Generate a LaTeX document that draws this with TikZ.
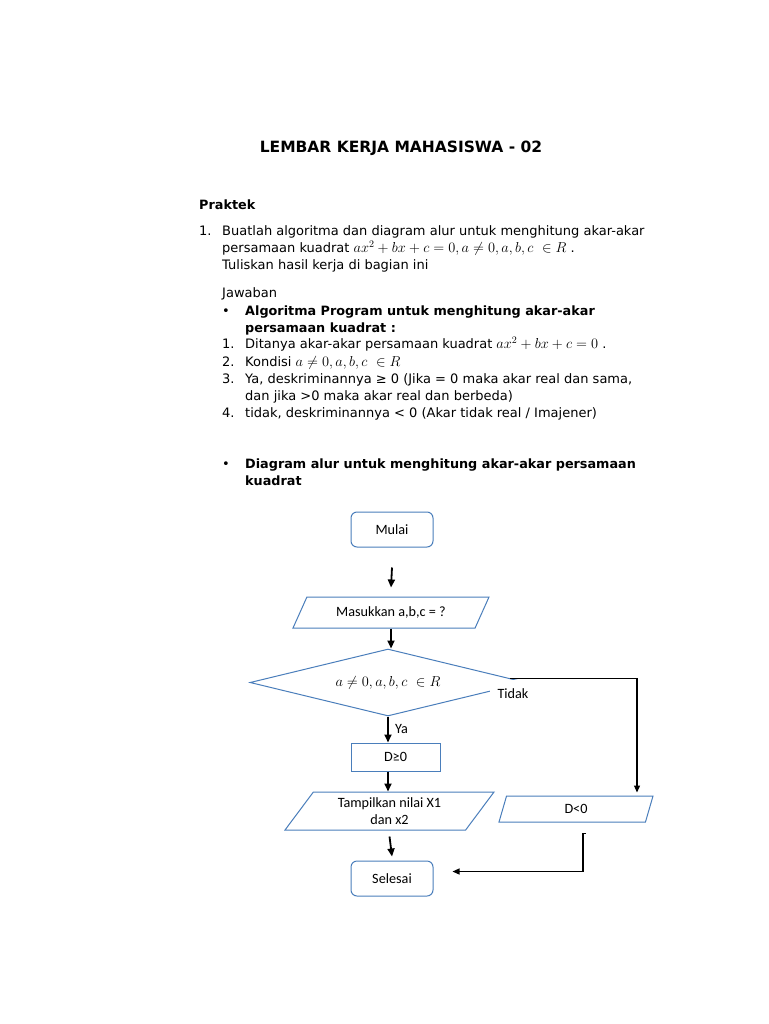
\documentclass[tikz,border=0pt]{standalone}
\usepackage{amsmath}
\usepackage{amssymb}
\usepackage{fontspec}
\setmainfont{DejaVu Sans}
\newfontfamily\chartfont{Carlito}
\usetikzlibrary{shapes.geometric,arrows.meta,calc}
\definecolor{shapeblue}{RGB}{74,126,187}
\newcommand{\mth}[1]{{\fontsize{14.4}{15}\selectfont$#1$}}
\tikzset{
  txt/.style={anchor=base west,inner sep=0pt,font=\fontsize{13}{15}\selectfont},
  hd/.style={anchor=base west,inner sep=0pt,font=\fontsize{12.8}{15}\selectfont\bfseries},
  term/.style={draw=shapeblue,line width=1pt,rounded corners=6pt,minimum width=82pt,minimum height=35pt,font=\chartfont\fontsize{14.2}{16}\selectfont},
  procbox/.style={draw=shapeblue,line width=1pt,minimum width=89pt,minimum height=28pt,font=\chartfont\fontsize{14.2}{16}\selectfont},
  iobox/.style={draw=shapeblue,line width=1pt,trapezium,trapezium stretches body=true,inner sep=0pt,align=center,font=\chartfont\fontsize{14.2}{16.5}\selectfont},
  arr/.style={-{Triangle[length=8pt,width=7pt]},line width=1.8pt},
  conn/.style={line width=1.2pt},
  lbl/.style={inner sep=0pt,font=\chartfont\fontsize{14.2}{16}\selectfont}
}
\begin{document}
\begin{tikzpicture}[x=1pt,y=-1pt]
\fill[white] (0,0) rectangle (768,1024);
\useasboundingbox (0,0) rectangle (768,1024);
% heading
\node[anchor=base,inner sep=0pt,font=\fontsize{15.5}{17}\selectfont\bfseries] (title) at (401,153) {LEMBAR KERJA MAHASISWA - 02};
\node[hd] (prak) at (199,210) {Praktek};
\node[txt] (n1) at (199,236) {1.};
\node[txt] (q1) at (222,236) {Buatlah algoritma dan diagram alur untuk menghitung akar-akar};
\node[txt] (q2) at (222,252.5) {persamaan kuadrat \mth{ax^2+bx+c=0, a\neq 0, a, b, c\ \in R} .};
\node[txt] (q3) at (222,269) {Tuliskan hasil kerja di bagian ini};
\node[txt] (jaw) at (222,297) {Jawaban};
% algoritma
\node[txt] (b1) at (222,315) {\textbullet};
\node[hd] (h1) at (245,315) {Algoritma Program untuk menghitung akar-akar};
\node[hd] (h2) at (245,332) {persamaan kuadrat :};
\node[txt] (s1n) at (222,348.5) {1.};
\node[txt] (s1) at (245,348.5) {Ditanya akar-akar persamaan kuadrat \mth{ax^2+bx+c=0} .};
\node[txt] (s2n) at (222,366) {2.};
\node[txt] (s2) at (245,366) {Kondisi \mth{a\neq 0, a, b, c\ \in R}};
\node[txt] (s3n) at (222,383) {3.};
\node[txt] (s3) at (245,383) {Ya, deskriminannya ≥ 0 (Jika = 0 maka akar real dan sama,};
\node[txt] (s3b) at (245,400) {dan jika >0 maka akar real dan berbeda)};
\node[txt] (s4n) at (222,417.5) {4.};
\node[txt] (s4) at (245,417.5) {tidak, deskriminannya < 0 (Akar tidak real / Imajener)};
\node[txt] (b2) at (222,468) {\textbullet};
\node[hd] (h3) at (245,468) {Diagram alur untuk menghitung akar-akar persamaan};
\node[hd] (h4) at (245,485) {kuadrat};
% flowchart
\node[term] (mulai) at (392,529.5) {Mulai};
\node[iobox,trapezium left angle=40,trapezium right angle=140,minimum width=196pt,minimum height=31pt] (input) at (391,612.5) {Masukkan a,b,c = ?};
\node[draw=shapeblue,line width=1pt,diamond,aspect=4,inner sep=0pt,minimum width=276pt,minimum height=67pt] (cek) at (388,682.5) {\mth{a\neq 0, a, b, c\ \in R}};
\node[procbox] (dpos) at (395.5,757) {D≥0};
\node[iobox,trapezium left angle=43,trapezium right angle=137,minimum width=209pt,minimum height=38pt] (tampil) at (389.5,811) {Tampilkan nilai X1\\dan x2};
\node[iobox,trapezium left angle=51,trapezium right angle=129,minimum width=154pt,minimum height=26pt] (dneg) at (576,809) {D<0};
\node[term] (selesai) at (392,878.5) {Selesai};
\node[lbl,fill=white,minimum width=46pt,minimum height=28pt] (tidak) at (513,694) {Tidak};
\node[lbl,anchor=west] (ya) at (395,729) {Ya};
\coordinate (cabang) at ($(cek.north)!0.884!(cek.east)$);
% arrows
\draw[arr] ([yshift=-20pt]mulai.south) -- ([yshift=9pt]input.north);
\draw[arr] (input.south) -- (input.south |- cek.north);
\draw[arr] (cek.south) -- (cek.south |- dpos.north);
\draw[arr] (cek.south |- dpos.south) -- (cek.south |- tampil.north);
\draw[arr] ([yshift=-6pt]tampil.south) -- ([yshift=4pt]selesai.north);
\draw[conn,-{Triangle[length=7pt,width=6pt]}] (cabang) -| ([xshift=61pt,yshift=3pt]dneg.north);
\draw[conn,-{Triangle[length=7pt,width=6pt]}] ([xshift=10pt,yshift=-11pt]dneg.south) -- ++(-3,0) |- ([xshift=19pt,yshift=7pt]selesai.east);
\end{tikzpicture}
\end{document}
